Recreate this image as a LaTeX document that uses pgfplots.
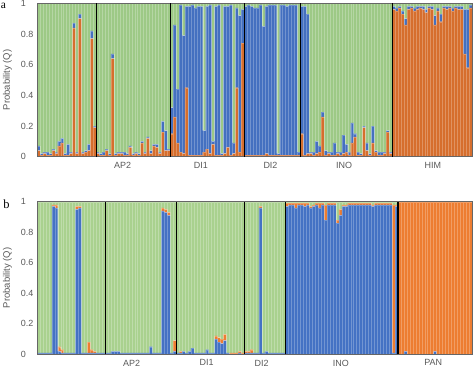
\documentclass[border=0pt]{standalone}
\usepackage{pgfplots}
\pgfplotsset{compat=1.18}
\usepackage{pgfplotstable}
\usepackage{fontspec}
\setmainfont{Liberation Sans}
\newfontfamily\serifletter{Liberation Serif}

\definecolor{gA}{RGB}{157,201,134}
\definecolor{bA}{RGB}{68,112,192}
\definecolor{oA}{RGB}{214,110,45}
\definecolor{gB}{RGB}{169,209,142}
\definecolor{bB}{RGB}{68,114,196}
\definecolor{oB}{RGB}{237,125,49}
\definecolor{labgray}{RGB}{89,89,89}

% panel a: columns orange, blue, green (stacked bottom to top)
\pgfplotstableread{
i o b g
0 0.04 0.03 0.93
1 0.01 0.01 0.98
2 0.02 0.01 0.97
3 0.01 0.02 0.97
4 0.01 0.01 0.98
5 0.04 0.01 0.95
6 0.02 0.01 0.97
7 0.07 0.03 0.90
8 0.09 0.03 0.88
9 0.01 0.01 0.98
10 0.01 0.07 0.92
11 0.02 0.01 0.97
12 0.84 0.03 0.13
13 0.02 0.01 0.97
14 0.90 0.03 0.07
15 0.02 0.01 0.97
16 0.03 0.01 0.96
17 0.04 0.04 0.92
18 0.77 0.05 0.18
19 0.19 0.01 0.80
20 0.02 0.01 0.97
21 0.01 0.01 0.98
22 0.01 0.02 0.97
23 0.04 0.01 0.95
24 0.01 0.01 0.98
25 0.64 0.03 0.33
26 0.01 0.01 0.98
27 0.02 0.01 0.97
28 0.02 0.01 0.97
29 0.01 0.02 0.97
30 0.01 0.01 0.98
31 0.06 0.01 0.93
32 0.01 0.01 0.98
33 0.02 0.01 0.97
34 0.01 0.01 0.98
35 0.09 0.01 0.90
36 0.02 0.01 0.97
37 0.12 0.01 0.87
38 0.02 0.02 0.96
39 0.07 0.01 0.92
40 0.06 0.02 0.92
41 0.02 0.01 0.97
42 0.16 0.07 0.77
43 0.04 0.13 0.83
44 0.04 0.01 0.95
45 0.15 0.17 0.68
46 0.26 0.60 0.14
47 0.09 0.35 0.56
48 0.03 0.96 0.01
49 0.02 0.77 0.21
50 0.45 0.53 0.02
51 0.01 0.97 0.02
52 0.01 0.98 0.01
53 0.01 0.96 0.03
54 0.01 0.97 0.02
55 0.01 0.97 0.02
56 0.03 0.14 0.83
57 0.05 0.93 0.02
58 0.02 0.97 0.01
59 0.08 0.02 0.90
60 0.01 0.97 0.02
61 0.01 0.98 0.01
62 0.01 0.01 0.98
63 0.02 0.96 0.02
64 0.06 0.92 0.02
65 0.01 0.98 0.01
66 0.02 0.07 0.91
67 0.45 0.52 0.03
68 0.03 0.89 0.08
69 0.74 0.22 0.04
70 0.01 0.97 0.02
71 0.01 0.98 0.01
72 0.01 0.97 0.02
73 0.01 0.96 0.03
74 0.01 0.96 0.03
75 0.01 0.98 0.01
76 0.01 0.84 0.15
77 0.02 0.96 0.02
78 0.01 0.98 0.01
79 0.01 0.98 0.01
80 0.01 0.98 0.01
81 0.01 0.01 0.98
82 0.01 0.98 0.01
83 0.01 0.98 0.01
84 0.01 0.97 0.02
85 0.01 0.98 0.01
86 0.01 0.98 0.01
87 0.01 0.98 0.01
88 0.01 0.02 0.97
89 0.15 0.83 0.02
90 0.01 0.97 0.02
91 0.02 0.91 0.07
92 0.02 0.01 0.97
93 0.01 0.02 0.97
94 0.02 0.08 0.90
95 0.03 0.04 0.93
96 0.26 0.03 0.71
97 0.01 0.03 0.96
98 0.02 0.01 0.97
99 0.01 0.02 0.97
100 0.01 0.08 0.91
101 0.02 0.01 0.97
102 0.01 0.02 0.97
103 0.02 0.12 0.86
104 0.03 0.05 0.92
105 0.01 0.02 0.97
106 0.09 0.13 0.78
107 0.13 0.02 0.85
108 0.01 0.02 0.97
109 0.01 0.01 0.98
110 0.19 0.01 0.80
111 0.04 0.05 0.91
112 0.01 0.01 0.98
113 0.09 0.11 0.80
114 0.03 0.01 0.96
115 0.01 0.02 0.97
116 0.01 0.02 0.97
117 0.02 0.01 0.97
118 0.16 0.01 0.83
119 0.02 0.01 0.97
120 0.96 0.02 0.02
121 0.95 0.02 0.03
122 0.97 0.01 0.02
123 0.93 0.02 0.05
124 0.86 0.04 0.10
125 0.96 0.02 0.02
126 0.97 0.01 0.02
127 0.95 0.02 0.03
128 0.96 0.02 0.02
129 0.97 0.01 0.02
130 0.96 0.02 0.02
131 0.94 0.02 0.04
132 0.97 0.01 0.02
133 0.96 0.02 0.02
134 0.86 0.06 0.08
135 0.95 0.02 0.03
136 0.88 0.05 0.07
137 0.97 0.01 0.02
138 0.96 0.02 0.02
139 0.97 0.01 0.02
140 0.95 0.02 0.03
141 0.97 0.01 0.02
142 0.96 0.02 0.02
143 0.96 0.02 0.02
144 0.67 0.29 0.04
145 0.58 0.38 0.04
146 0.97 0.02 0.01
}\dataA

% panel b: columns blue, orange, green (stacked bottom to top)
\pgfplotstableread{
i b o g
0 0.01 0.00 0.99
1 0.01 0.00 0.99
2 0.01 0.00 0.99
3 0.01 0.00 0.99
4 0.01 0.00 0.99
5 0.97 0.01 0.02
6 0.96 0.02 0.02
7 0.02 0.03 0.95
8 0.01 0.02 0.97
9 0.01 0.00 0.99
10 0.01 0.00 0.99
11 0.01 0.00 0.99
12 0.01 0.00 0.99
13 0.95 0.02 0.03
14 0.96 0.01 0.03
15 0.01 0.00 0.99
16 0.01 0.00 0.99
17 0.01 0.07 0.92
18 0.01 0.02 0.97
19 0.01 0.01 0.98
20 0.01 0.00 0.99
21 0.01 0.00 0.99
22 0.01 0.00 0.99
23 0.01 0.00 0.99
24 0.01 0.00 0.99
25 0.02 0.00 0.98
26 0.02 0.00 0.98
27 0.02 0.00 0.98
28 0.01 0.00 0.99
29 0.01 0.00 0.99
30 0.01 0.00 0.99
31 0.01 0.00 0.99
32 0.01 0.00 0.99
33 0.01 0.00 0.99
34 0.01 0.00 0.99
35 0.01 0.00 0.99
36 0.01 0.00 0.99
37 0.01 0.00 0.99
38 0.05 0.00 0.95
39 0.01 0.00 0.99
40 0.01 0.00 0.99
41 0.01 0.00 0.99
42 0.94 0.02 0.04
43 0.93 0.02 0.05
44 0.91 0.02 0.07
45 0.01 0.00 0.99
46 0.02 0.07 0.91
47 0.01 0.00 0.99
48 0.01 0.01 0.98
49 0.02 0.00 0.98
50 0.01 0.00 0.99
51 0.02 0.00 0.98
52 0.04 0.00 0.96
53 0.01 0.00 0.99
54 0.01 0.00 0.99
55 0.01 0.00 0.99
56 0.01 0.00 0.99
57 0.03 0.00 0.97
58 0.01 0.00 0.99
59 0.01 0.00 0.99
60 0.10 0.02 0.88
61 0.08 0.03 0.89
62 0.07 0.03 0.90
63 0.09 0.04 0.87
64 0.01 0.00 0.99
65 0.00 0.01 0.99
66 0.00 0.01 0.99
67 0.00 0.01 0.99
68 0.01 0.01 0.98
69 0.00 0.01 0.99
70 0.01 0.01 0.98
71 0.01 0.01 0.98
72 0.01 0.02 0.97
73 0.01 0.00 0.99
74 0.01 0.00 0.99
75 0.96 0.01 0.03
76 0.01 0.00 0.99
77 0.02 0.00 0.98
78 0.01 0.00 0.99
79 0.01 0.00 0.99
80 0.01 0.00 0.99
81 0.01 0.00 0.99
82 0.01 0.00 0.99
83 0.01 0.00 0.99
84 0.97 0.02 0.01
85 0.98 0.01 0.01
86 0.98 0.01 0.01
87 0.96 0.03 0.01
88 0.98 0.01 0.01
89 0.98 0.01 0.01
90 0.97 0.02 0.01
91 0.98 0.01 0.01
92 0.96 0.01 0.03
93 0.97 0.01 0.02
94 0.98 0.01 0.01
95 0.96 0.03 0.01
96 0.98 0.01 0.01
97 0.88 0.10 0.02
98 0.98 0.01 0.01
99 0.98 0.01 0.01
100 0.98 0.01 0.01
101 0.86 0.02 0.12
102 0.91 0.04 0.05
103 0.97 0.01 0.02
104 0.97 0.01 0.02
105 0.98 0.01 0.01
106 0.98 0.01 0.01
107 0.98 0.01 0.01
108 0.98 0.01 0.01
109 0.98 0.01 0.01
110 0.98 0.01 0.01
111 0.98 0.01 0.01
112 0.98 0.01 0.01
113 0.97 0.01 0.02
114 0.98 0.01 0.01
115 0.98 0.01 0.01
116 0.98 0.01 0.01
117 0.98 0.01 0.01
118 0.98 0.01 0.01
119 0.98 0.01 0.01
120 0.01 0.97 0.02
121 0.97 0.01 0.02
122 0.00 1.00 0.00
123 0.00 1.00 0.00
124 0.02 0.98 0.00
125 0.00 1.00 0.00
126 0.00 1.00 0.00
127 0.00 1.00 0.00
128 0.00 1.00 0.00
129 0.00 1.00 0.00
130 0.00 1.00 0.00
131 0.00 1.00 0.00
132 0.00 1.00 0.00
133 0.00 1.00 0.00
134 0.02 0.98 0.00
135 0.00 1.00 0.00
136 0.00 1.00 0.00
137 0.00 1.00 0.00
138 0.00 1.00 0.00
139 0.00 1.00 0.00
140 0.00 1.00 0.00
141 0.00 1.00 0.00
142 0.00 1.00 0.00
143 0.00 1.00 0.00
144 0.00 1.00 0.00
145 0.00 1.00 0.00
146 0.00 1.00 0.00
}\dataB

\pgfplotsset{
  strbase/.style={
    scale only axis, width=435bp,
    xmin=-0.5, xmax=146.5, ymin=0, ymax=1,
    ybar stacked, bar width=1,
    axis on top,
    ytick={0,0.2,0.4,0.6,0.8,1},
    yticklabels={0,0.2,0.4,0.6,0.8,1},
    major tick length=0pt,
    axis line style={black!60, line width=0.5pt},
    tick label style={font=\fontsize{9}{10}\selectfont, text=labgray},
    yticklabel style={anchor=west, inner sep=0pt, xshift=-16.3bp},
    xticklabel style={yshift=-2bp},
    extra x tick labels={},
    extra x tick style={grid=major, major grid style={black, line width=1.1pt}},
    ylabel={Probability (Q)},
    ylabel style={font=\fontsize{9.5}{11}\selectfont, text=labgray,
      at={(axis description cs:-0.0678,0.5)}, anchor=center},
  },
  barA/.style={fill=#1, draw=white, draw opacity=0.25, line width=0.3pt},
}

\begin{document}
\begin{tikzpicture}
\begin{axis}[strbase, height=153.4bp, at={(37bp,-3.3bp)}, anchor=north west,
  xtick={28.4,54.9,78.4,103.3,133.3},
  xticklabels={AP2,DI1,DI2,INO,HIM},
  extra x ticks={19.5,44.5,69.5,88.5,119.5}]
\addplot[barA=oA] table[x=i,y=o]{\dataA};
\addplot[barA=bA] table[x=i,y=b]{\dataA};
\addplot[barA=gA] table[x=i,y=g]{\dataA};
\end{axis}
\begin{axis}[strbase, height=152.6bp, at={(37bp,-201.7bp)}, anchor=north west,
  xtick={31.5,56.8,75.4,102.2,133.4},
  xticklabels={AP2,DI1,DI2,INO,PAN},
  extra x ticks={22.5,46.5,69.5,83.5,121.5}]
\addplot[barA=bB] table[x=i,y=b]{\dataB};
\addplot[barA=oB] table[x=i,y=o]{\dataB};
\addplot[barA=gB] table[x=i,y=g]{\dataB};
\end{axis}
\node[anchor=base west, inner sep=0pt, font=\serifletter\fontsize{11.5}{12}\selectfont] at (0.6bp,-8bp) {a};
\node[anchor=base west, inner sep=0pt, font=\serifletter\fontsize{12.5}{13}\selectfont] at (3.3bp,-208bp) {b};
\pgfresetboundingbox
\useasboundingbox (0bp,0bp) rectangle (474bp,-369bp);
\end{tikzpicture}
\end{document}
